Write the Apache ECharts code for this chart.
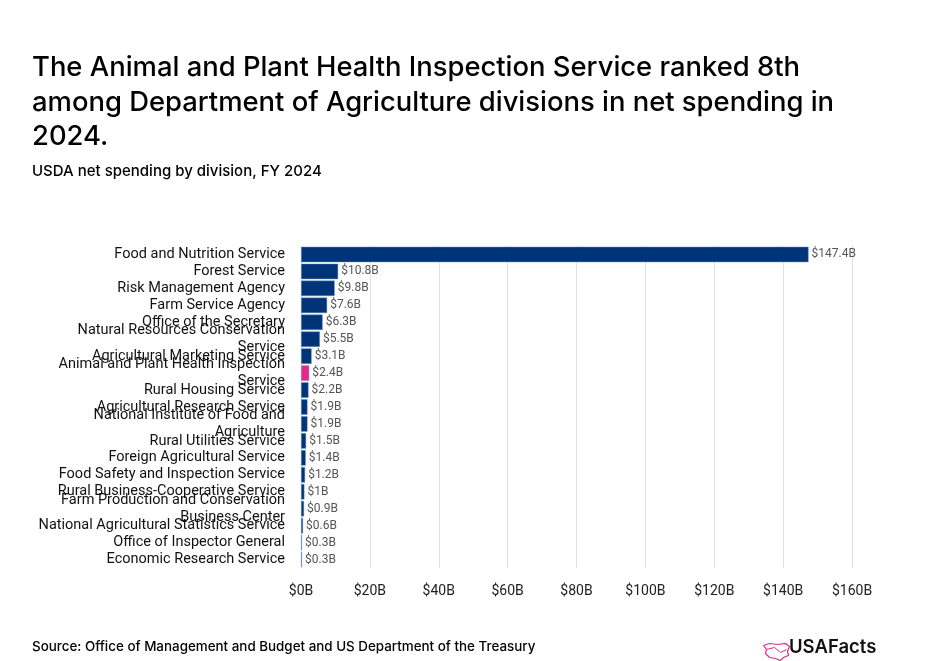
<!DOCTYPE html>
<html>
<head>
<meta charset="utf-8">
<script src="https://cdn.jsdelivr.net/npm/echarts@6/dist/echarts.min.js"></script>
<style>
  html, body { margin: 0; padding: 0; background: #fff; }
  #main { width: 929px; height: 661px; }
</style>
</head>
<body>
<div id="main"></div>
<script>
// data
var divisions = [
    'Food and Nutrition Service',
    'Forest Service',
    'Risk Management Agency',
    'Farm Service Agency',
    'Office of the Secretary',
    'Natural Resources Conservation Service',
    'Agricultural Marketing Service',
    'Animal and Plant Health Inspection Service',
    'Rural Housing Service',
    'Agricultural Research Service',
    'National Institute of Food and Agriculture',
    'Rural Utilities Service',
    'Foreign Agricultural Service',
    'Food Safety and Inspection Service',
    'Rural Business-Cooperative Service',
    'Farm Production and Conservation Business Center',
    'National Agricultural Statistics Service',
    'Office of Inspector General',
    'Economic Research Service'
]
var spending = [147.4, 10.8, 9.8, 7.6, 6.3, 5.5, 3.1, 2.4, 2.2, 1.9, 1.9, 1.5, 1.4, 1.2, 1, 0.9, 0.6, 0.3, 0.3]
var highlight = 'Animal and Plant Health Inspection Service'

var navy = '#003478', pink = '#e5298c'
var labelFont = '14.5px Roboto', labelWidth = 255

// word wrap without the trailing space so lines stay flush right
var ctx = document.createElement('canvas').getContext('2d')
ctx.font = labelFont
function wrap(s) {
    var words = s.split(' '), lines = [], cur = ''
    words.forEach(function (w) {
        var t = cur ? cur + ' ' + w : w
        if (cur && ctx.measureText(t).width > labelWidth) { lines.push(cur); cur = w } else cur = t
    })
    lines.push(cur)
    return lines.join('\n')
}

var myChart = echarts.init(document.getElementById('main'))

var option = {
    backgroundColor: '#fff',
    textStyle: { fontFamily: 'Roboto' },
    title: [
        {
            text: 'The Animal and Plant Health Inspection Service ranked 8th\namong Department of Agriculture divisions in net spending in\n2024.',
            left: 27, top: 46,
            textStyle: { fontFamily: 'Inter', fontSize: 27.4, fontWeight: 500, color: '#000', lineHeight: 34.5 }
        },
        {
            text: 'USDA net spending by division, FY 2024',
            left: 27, top: 159,
            textStyle: { fontFamily: 'Inter', fontSize: 15, fontWeight: 500, color: '#000' }
        },
        {
            text: 'Source: Office of Management and Budget and US Department of the Treasury',
            left: 27, top: 635,
            textStyle: { fontFamily: 'Inter', fontSize: 13.4, fontWeight: 500, color: '#000' }
        }
    ],
    graphic: [
        {
            type: 'text', left: 789, top: 638,
            style: { text: 'USAFacts', font: '600 18.5px Inter', fill: '#111' }
        },
        {
            type: 'polyline', left: 761, top: 641,
            shape: { points: [[0, 2], [6, 0], [14, 1], [22, 0], [26, 3], [24, 8], [25, 12], [20, 14], [17, 17], [12, 15], [6, 14], [2, 10], [3, 6], [0, 2]] },
            style: { stroke: pink, fill: null, lineWidth: 1.2 }
        },
        {
            type: 'polyline', left: 764, top: 645,
            shape: { points: [[0, 3], [8, 1], [14, 6], [20, 3]] },
            style: { stroke: pink, fill: null, lineWidth: 1 }
        }
    ],
    grid: { left: 301, right: 77, top: 246, bottom: 93, containLabel: false },
    xAxis: {
        type: 'value',
        min: 0, max: 160, interval: 20,
        axisLine: { show: false },
        axisTick: { show: false },
        splitLine: { lineStyle: { color: '#e0e0e0' } },
        axisLabel: {
            formatter: function (v) { return '$' + v + 'B' },
            color: '#222', fontSize: 14, margin: 16
        }
    },
    yAxis: {
        type: 'category',
        inverse: true,
        data: divisions,
        axisLine: { show: false },
        axisTick: { show: false },
        axisLabel: {
            interval: 0,
            color: '#111', fontSize: 14.5, margin: 16, lineHeight: 17,
            formatter: wrap
        }
    },
    series: [{
        type: 'bar',
        barCategoryGap: '8%',
        data: spending.map(function (v, i) {
            return { value: v, itemStyle: { color: divisions[i] == highlight ? pink : navy } }
        }),
        itemStyle: { borderColor: 'rgba(120,150,190,0.8)', borderWidth: 0.6 },
        label: {
            show: true, position: 'right', distance: 3,
            color: '#555', fontSize: 12,
            formatter: function (p) { return '$' + p.value + 'B' }
        }
    }]
}
myChart.setOption(option)
</script>
</body>
</html>
